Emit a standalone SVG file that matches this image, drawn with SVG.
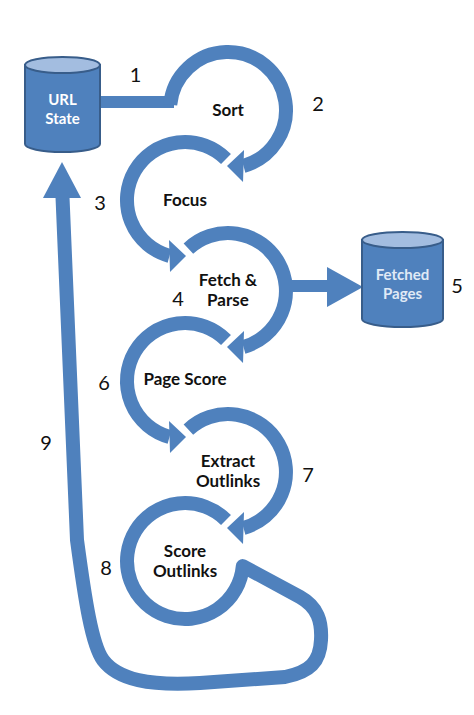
<svg xmlns="http://www.w3.org/2000/svg" xmlns:xlink="http://www.w3.org/1999/xlink" width="474" height="715" viewBox="0 0 474 715">
<style>
.flow{fill:none;stroke:#4f81bd;stroke-width:14;stroke-linejoin:round}
.bar{fill:none;stroke:#4f81bd;stroke-width:12}
.head{fill:#4f81bd;stroke:none}
.cyl{fill:#4f81bd;stroke:#385d8a;stroke-width:2}
.cyltop{fill:#a3bde0;stroke:#385d8a;stroke-width:2}
.lbl{font-family:Lato,"Open Sans","Liberation Sans",sans-serif;font-weight:bold;font-size:17px;fill:#111;text-anchor:middle}
.cyltxt{font-family:Lato,"Open Sans","Liberation Sans",sans-serif;font-weight:bold;font-size:15px;text-anchor:middle}
.num{font-family:Lato,"Open Sans","Liberation Sans",sans-serif;font-size:20px;fill:#111;text-anchor:middle}
</style>
<defs>
<polygon id="headR" points="16,40 15,72 -1,56"/>
<polygon id="headL" points="-16,40 -15,72 1,56"/>
</defs>
<rect width="474" height="715" fill="#fff"/>
<g id="connectors">
<line class="bar" x1="99" y1="102" x2="174" y2="102"/>
<path class="flow" d="M170.2,104.9 A58,58 0 1 1 243.5,165.9"/>
<use class="head" xlink:href="#headR" x="228" y="110"/>
<path class="flow" d="M226,159 A58,58 0 1 0 169.5,255.9"/>
<use class="head" xlink:href="#headL" x="185" y="200"/>
<path class="flow" d="M188.4,248.6 A58,58 0 1 1 243.5,346.9"/>
<use class="head" xlink:href="#headR" x="228" y="291"/>
<path class="flow" d="M226,340 A58,58 0 1 0 169.5,436.9"/>
<use class="head" xlink:href="#headL" x="185" y="381"/>
<path class="flow" d="M188.4,429.6 A58,58 0 1 1 243.5,527.9"/>
<use class="head" xlink:href="#headR" x="228" y="472"/>
<path class="flow" d="M226,520 A58,58 0 1 0 242.8,566.1 L300,597 C318,607 322,622 321,640 C320,662 310,672 285,677 L200,683 C150,686 118,680 103,660 C92,645 85,600 77,540 L62.5,197"/>
<polygon class="head" points="62,162 43,198 81,198"/>
<line class="bar" x1="284" y1="286" x2="329" y2="286"/>
<polygon class="head" points="327,267 327,307 363,287"/>
</g>
<g id="url-state">
<path class="cyl" d="M25,65 L25,144 A37.5,8 0 0 0 100,144 L100,65 Z"/>
<ellipse class="cyltop" cx="62.5" cy="65" rx="37.5" ry="8"/>
<text class="cyltxt" x="62.5" y="105" fill="#fff">URL</text>
<text class="cyltxt" x="62.5" y="124" fill="#fff">State</text>
</g>
<g id="fetched-pages">
<path class="cyl" d="M362,240 L362,319 A40.5,8 0 0 0 443,319 L443,240 Z"/>
<ellipse class="cyltop" cx="402.5" cy="240" rx="40.5" ry="8"/>
<text class="cyltxt" x="402.5" y="280" fill="#e0eaf6">Fetched</text>
<text class="cyltxt" x="402.5" y="299" fill="#e0eaf6">Pages</text>
</g>
<g id="sort"><text class="lbl" x="228" y="116">Sort</text></g>
<g id="focus"><text class="lbl" x="185" y="206">Focus</text></g>
<g id="fetch-parse"><text class="lbl" x="228" y="286">Fetch &amp;</text><text class="lbl" x="228" y="306">Parse</text></g>
<g id="page-score"><text class="lbl" x="185" y="385">Page Score</text></g>
<g id="extract-outlinks"><text class="lbl" x="228" y="467">Extract</text><text class="lbl" x="228" y="487">Outlinks</text></g>
<g id="score-outlinks"><text class="lbl" x="185" y="557">Score</text><text class="lbl" x="185" y="577">Outlinks</text></g>
<g id="numbers">
<text class="num" x="135.5" y="82">1</text>
<text class="num" x="318" y="111">2</text>
<text class="num" x="100" y="210">3</text>
<text class="num" x="178" y="306">4</text>
<text class="num" x="457" y="293">5</text>
<text class="num" x="104" y="390">6</text>
<text class="num" x="308" y="482">7</text>
<text class="num" x="106" y="575">8</text>
<text class="num" x="46" y="450">9</text>
</g>
</svg>
